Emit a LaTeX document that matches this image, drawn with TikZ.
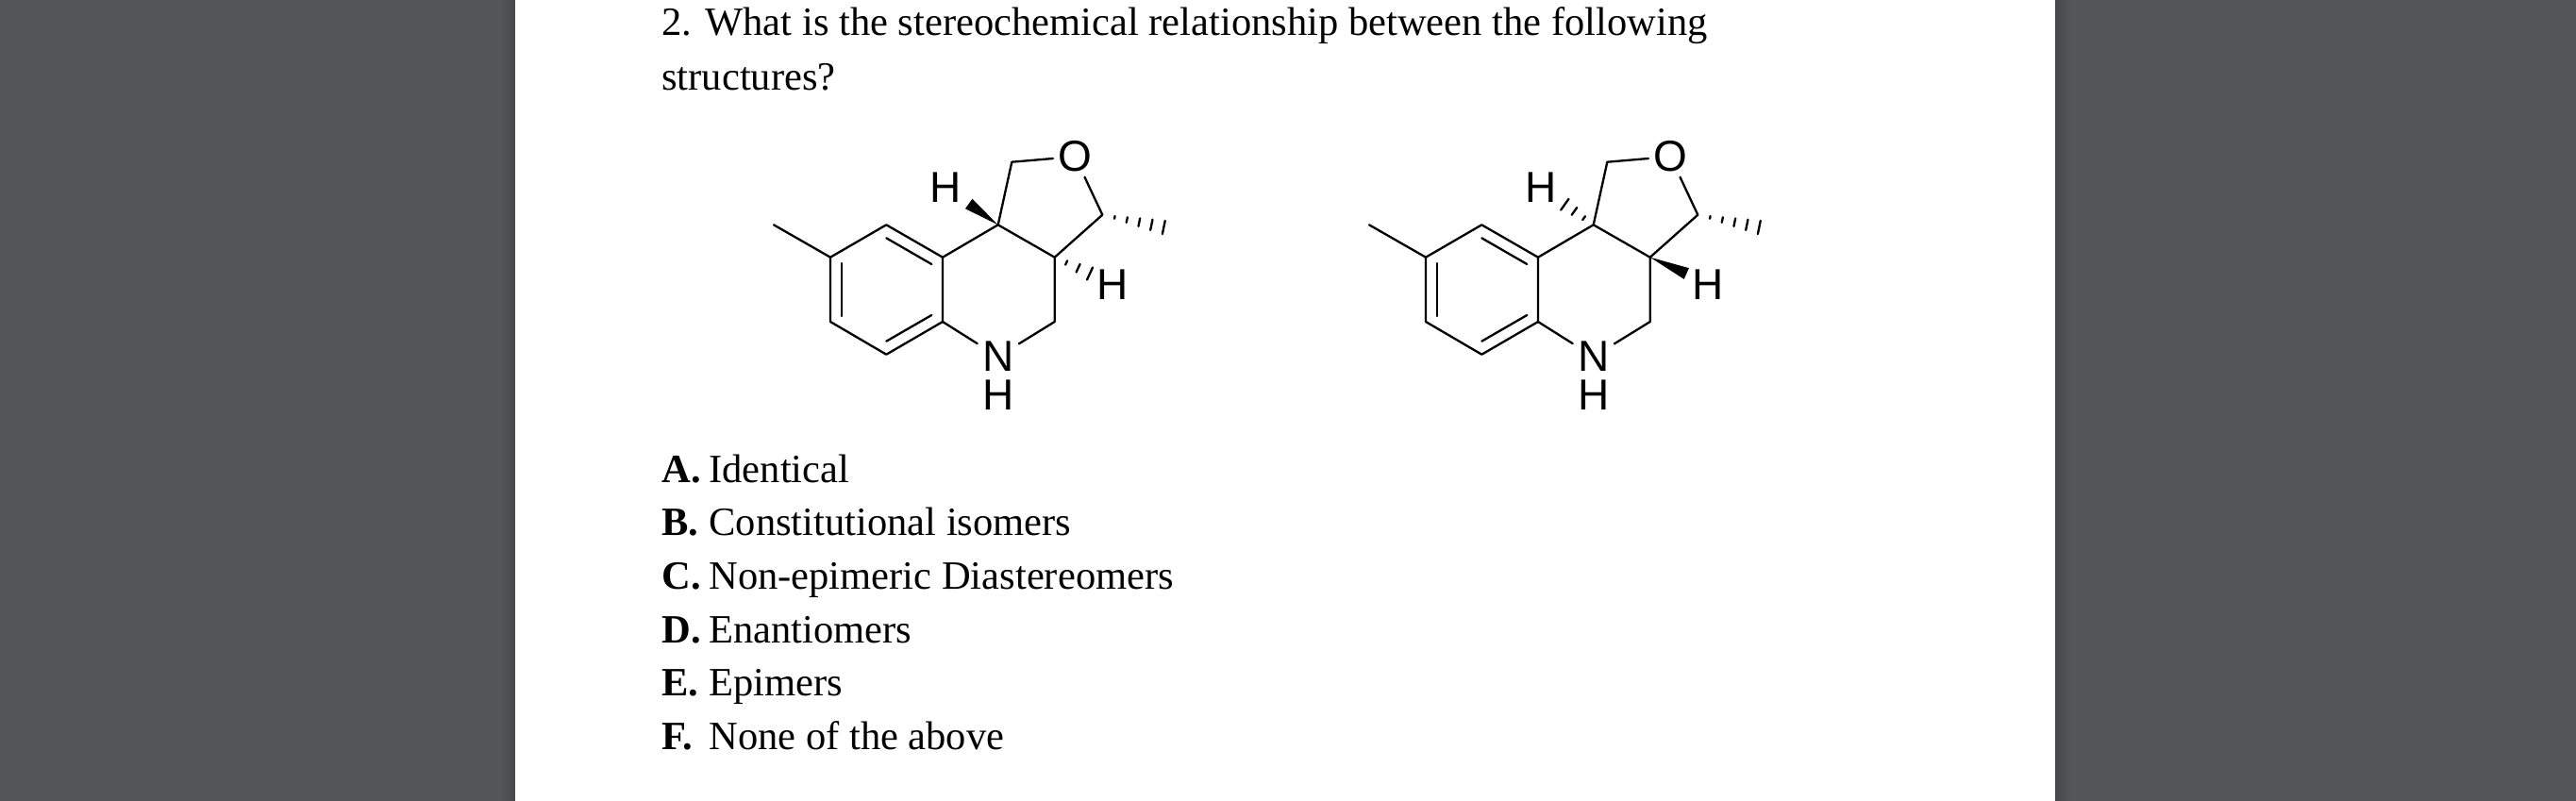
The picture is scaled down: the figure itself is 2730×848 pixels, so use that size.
\documentclass[tikz,border=0pt]{standalone}
\usepackage{fontspec}
\setmainfont{Liberation Serif}
\newfontfamily\atomfont{Liberation Sans}
\usetikzlibrary{calc}
\definecolor{deskgray}{HTML}{53575A}
\definecolor{edgegray}{HTML}{45484B}

% one hashed bond: from, to, number of strokes
\newcommand{\hashbond}[3]{
  \foreach \k in {1,...,#3} {
    \pgfmathsetmacro{\tval}{\k/#3}
    \pgfmathsetmacro{\wval}{3.6*\tval}
    \coordinate (hp) at ($(#1)!\tval!(#2)$);
    \draw[bond] ($(hp)!\wval pt!90:(#1)$) -- ($(hp)!\wval pt!-90:(#1)$);
  }
}
\newcommand{\wedgebond}[2]{
  \fill (#1) -- ($(#2)!3.2pt!90:(#1)$) -- ($(#2)!3.2pt!-90:(#1)$) -- cycle;
}
\newcommand{\optlabel}[1]{\makebox[25pt][l]{\textbf{#1}}}

\tikzset{
  bond/.style = {line width=1.15pt, line cap=round, line join=round},
  atom/.style = {font=\atomfont\fontsize{23}{23}\selectfont, inner sep=2.5pt, text=black},
  qtext/.style = {font=\fontsize{21.27}{21.27}\selectfont, anchor=base west, inner sep=0pt, text=black}
}

\begin{document}
\begin{tikzpicture}[x=0.5pt, y=-0.5pt]
  \useasboundingbox (0,0) rectangle (2730,848);
  \fill[deskgray] (0,-6) rectangle (2730,854);
  \shade[left color=deskgray, right color=edgegray] (530,-6) rectangle (546,854);
  \shade[left color=edgegray, right color=deskgray] (2178,-6) rectangle (2194,854);
  \fill[white] (546,-6) rectangle (2178,854);

  \node[qtext] (line1) at (701,37.5) {2. What is the stereochemical relationship between the following};
  \node[qtext] (line2) at (701,95.5) {structures?};

  \foreach \m/\dx in {a/0, b/631} {
    \begin{scope}[xshift=\dx*0.5pt]
      \coordinate (\m-me) at (820,238.3);
      \coordinate (\m-c1) at (880,272.7);
      \coordinate (\m-c2) at (939.3,238.3);
      \coordinate (\m-c3) at (999,272.7);
      \coordinate (\m-c4) at (999,341);
      \coordinate (\m-c5) at (939.3,375.7);
      \coordinate (\m-c6) at (880,341);
      \coordinate (\m-c7) at (1117.7,341);
      \coordinate (\m-c8) at (1117.7,272.7);
      \coordinate (\m-c9) at (1057.7,238.3);
      \coordinate (\m-c10) at (1072.3,171.7);
      \coordinate (\m-c11) at (1168.3,227.7);
      \coordinate (\m-met) at (1233.3,241);
      \coordinate (\m-d1) at (892.3,279);
      \coordinate (\m-d2) at (892.3,335);
      \coordinate (\m-d3) at (939.3,252.3);
      \coordinate (\m-d4) at (987.3,280);
      \coordinate (\m-d5) at (987.3,334);
      \coordinate (\m-d6) at (939.3,361.7);
      \node[atom] (\m-N) at (1057.7,378) {N};
      \node[atom] (\m-NH) at (1057.7,419) {H};
      \node[atom] (\m-O) at (1139.3,166) {O};
      \node[atom] (\m-Ha) at (1002.5,199) {H};
      \node[atom] (\m-Hb) at (1179,301.5) {H};
      \draw[bond] (\m-me) -- (\m-c1) -- (\m-c2) -- (\m-c3) -- (\m-c4) -- (\m-c5) -- (\m-c6) -- (\m-c1);
      \draw[bond] (\m-c3) -- (\m-c9) -- (\m-c8) -- (\m-c7) -- (\m-N);
      \draw[bond] (\m-c4) -- (\m-N);
      \draw[bond] (\m-c9) -- (\m-c10) -- (\m-O) -- (\m-c11) -- (\m-c8);
      \draw[bond] (\m-d1) -- (\m-d2);
      \draw[bond] (\m-d3) -- (\m-d4);
      \draw[bond] (\m-d5) -- (\m-d6);
      \hashbond{\m-c11}{\m-met}{5}
    \end{scope}
  }
  \coordinate (a-wedge) at (1026.7,216);
  \coordinate (a-hash) at (1155,290);
  \coordinate (b-hash) at (1658.3,216.7);
  \coordinate (b-wedge) at (1787.3,290);
  \wedgebond{a-c9}{a-wedge}
  \hashbond{a-c8}{a-hash}{3}
  \hashbond{b-c9}{b-hash}{3}
  \wedgebond{b-c8}{b-wedge}

  \node[qtext] (optA) at (701,511.5) {\optlabel{A.}Identical};
  \node[qtext] (optB) at (701,567.5) {\optlabel{B.}Constitutional isomers};
  \node[qtext] (optC) at (701,624.5) {\optlabel{C.}Non-epimeric Diastereomers};
  \node[qtext] (optD) at (701,681.5) {\optlabel{D.}Enantiomers};
  \node[qtext] (optE) at (701,737.5) {\optlabel{E.}Epimers};
  \node[qtext] (optF) at (701,794.5) {\optlabel{F.}None of the above};
\end{tikzpicture}
\end{document}
